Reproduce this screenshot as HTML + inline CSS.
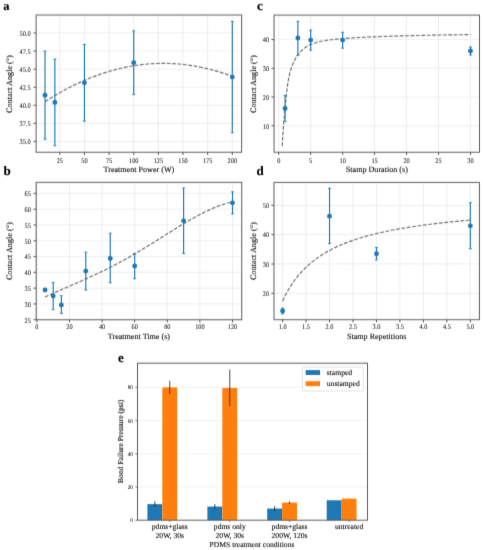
<!DOCTYPE html>
<html><head><meta charset="utf-8"><title>Figure</title>
<style>
html,body{margin:0;padding:0;background:#fff;}
svg{display:block;font-family:"Liberation Serif",serif;text-rendering:geometricPrecision;}
</style></head><body>
<svg width="483" height="550" viewBox="0 0 483 550">
<defs><filter id="soft" x="-5" y="-5" width="493" height="560" filterUnits="userSpaceOnUse" color-interpolation-filters="sRGB"><feConvolveMatrix order="3" kernelMatrix="0.0098 0.1204 0.0098 0.0504 0.6192 0.0504 0.0098 0.1204 0.0098" divisor="1" edgeMode="duplicate" preserveAlpha="true"/></filter></defs>
<g filter="url(#soft)">
<rect x="-5" y="-5" width="493" height="560" fill="#fff"/>
<rect x="36.1" y="15.0" width="205.55" height="137.25" fill="#fff" stroke="none"/>
<line x1="59.80" y1="15.0" x2="59.80" y2="152.25" stroke="#e7e7e7" stroke-width="0.7"/>
<line x1="84.44" y1="15.0" x2="84.44" y2="152.25" stroke="#e7e7e7" stroke-width="0.7"/>
<line x1="109.09" y1="15.0" x2="109.09" y2="152.25" stroke="#e7e7e7" stroke-width="0.7"/>
<line x1="133.73" y1="15.0" x2="133.73" y2="152.25" stroke="#e7e7e7" stroke-width="0.7"/>
<line x1="158.37" y1="15.0" x2="158.37" y2="152.25" stroke="#e7e7e7" stroke-width="0.7"/>
<line x1="183.01" y1="15.0" x2="183.01" y2="152.25" stroke="#e7e7e7" stroke-width="0.7"/>
<line x1="207.66" y1="15.0" x2="207.66" y2="152.25" stroke="#e7e7e7" stroke-width="0.7"/>
<line x1="232.30" y1="15.0" x2="232.30" y2="152.25" stroke="#e7e7e7" stroke-width="0.7"/>
<line x1="36.1" y1="141.40" x2="241.65" y2="141.40" stroke="#e7e7e7" stroke-width="0.7"/>
<line x1="36.1" y1="123.33" x2="241.65" y2="123.33" stroke="#e7e7e7" stroke-width="0.7"/>
<line x1="36.1" y1="105.27" x2="241.65" y2="105.27" stroke="#e7e7e7" stroke-width="0.7"/>
<line x1="36.1" y1="87.20" x2="241.65" y2="87.20" stroke="#e7e7e7" stroke-width="0.7"/>
<line x1="36.1" y1="69.13" x2="241.65" y2="69.13" stroke="#e7e7e7" stroke-width="0.7"/>
<line x1="36.1" y1="51.07" x2="241.65" y2="51.07" stroke="#e7e7e7" stroke-width="0.7"/>
<line x1="36.1" y1="33.00" x2="241.65" y2="33.00" stroke="#e7e7e7" stroke-width="0.7"/>
<path d="M45.01,101.65 L48.14,99.66 L51.26,97.72 L54.38,95.83 L57.50,93.99 L60.62,92.21 L63.74,90.48 L66.86,88.81 L69.99,87.19 L73.11,85.62 L76.23,84.11 L79.35,82.64 L82.47,81.24 L85.59,79.88 L88.71,78.58 L91.84,77.33 L94.96,76.14 L98.08,75.00 L101.20,73.91 L104.32,72.87 L107.44,71.89 L110.56,70.97 L113.69,70.09 L116.81,69.27 L119.93,68.50 L123.05,67.79 L126.17,67.13 L129.29,66.52 L132.41,65.96 L135.54,65.46 L138.66,65.01 L141.78,64.62 L144.90,64.28 L148.02,63.99 L151.14,63.76 L154.26,63.58 L157.39,63.45 L160.51,63.37 L163.63,63.35 L166.75,63.38 L169.87,63.47 L172.99,63.61 L176.11,63.80 L179.24,64.05 L182.36,64.35 L185.48,64.70 L188.60,65.10 L191.72,65.56 L194.84,66.08 L197.96,66.64 L201.09,67.26 L204.21,67.93 L207.33,68.66 L210.45,69.44 L213.57,70.27 L216.69,71.16 L219.81,72.10 L222.94,73.09 L226.06,74.13 L229.18,75.23 L232.30,76.39" fill="none" stroke="#6a6a6a" stroke-width="1.15" stroke-dasharray="3.8 1.6"/>
<line x1="45.01" y1="51.07" x2="45.01" y2="139.23" stroke="#1f77b4" stroke-width="1.15"/>
<line x1="43.51" y1="51.07" x2="46.51" y2="51.07" stroke="#1f77b4" stroke-width="0.9"/>
<line x1="43.51" y1="139.23" x2="46.51" y2="139.23" stroke="#1f77b4" stroke-width="0.9"/>
<circle cx="45.01" cy="95.15" r="2.45" fill="#1f77b4"/>
<line x1="54.87" y1="59.02" x2="54.87" y2="145.74" stroke="#1f77b4" stroke-width="1.15"/>
<line x1="53.37" y1="59.02" x2="56.37" y2="59.02" stroke="#1f77b4" stroke-width="0.9"/>
<line x1="53.37" y1="145.74" x2="56.37" y2="145.74" stroke="#1f77b4" stroke-width="0.9"/>
<circle cx="54.87" cy="102.38" r="2.45" fill="#1f77b4"/>
<line x1="84.44" y1="44.56" x2="84.44" y2="121.17" stroke="#1f77b4" stroke-width="1.15"/>
<line x1="82.94" y1="44.56" x2="85.94" y2="44.56" stroke="#1f77b4" stroke-width="0.9"/>
<line x1="82.94" y1="121.17" x2="85.94" y2="121.17" stroke="#1f77b4" stroke-width="0.9"/>
<circle cx="84.44" cy="82.86" r="2.45" fill="#1f77b4"/>
<line x1="133.73" y1="30.83" x2="133.73" y2="94.43" stroke="#1f77b4" stroke-width="1.15"/>
<line x1="132.23" y1="30.83" x2="135.23" y2="30.83" stroke="#1f77b4" stroke-width="0.9"/>
<line x1="132.23" y1="94.43" x2="135.23" y2="94.43" stroke="#1f77b4" stroke-width="0.9"/>
<circle cx="133.73" cy="62.63" r="2.45" fill="#1f77b4"/>
<line x1="232.30" y1="21.44" x2="232.30" y2="132.73" stroke="#1f77b4" stroke-width="1.15"/>
<line x1="230.80" y1="21.44" x2="233.80" y2="21.44" stroke="#1f77b4" stroke-width="0.9"/>
<line x1="230.80" y1="132.73" x2="233.80" y2="132.73" stroke="#1f77b4" stroke-width="0.9"/>
<circle cx="232.30" cy="77.08" r="2.45" fill="#1f77b4"/>
<rect x="36.1" y="15.0" width="205.55" height="137.25" fill="none" stroke="#555" stroke-width="0.95"/>
<line x1="59.80" y1="152.25" x2="59.80" y2="154.95" stroke="#444" stroke-width="0.9"/>
<text transform="translate(59.80 162.50) scale(0.9 1)" font-size="7.0" text-anchor="middle" font-weight="normal" fill="#111" stroke="#111" stroke-width="0.05">25</text>
<line x1="84.44" y1="152.25" x2="84.44" y2="154.95" stroke="#444" stroke-width="0.9"/>
<text transform="translate(84.44 162.50) scale(0.9 1)" font-size="7.0" text-anchor="middle" font-weight="normal" fill="#111" stroke="#111" stroke-width="0.05">50</text>
<line x1="109.09" y1="152.25" x2="109.09" y2="154.95" stroke="#444" stroke-width="0.9"/>
<text transform="translate(109.09 162.50) scale(0.9 1)" font-size="7.0" text-anchor="middle" font-weight="normal" fill="#111" stroke="#111" stroke-width="0.05">75</text>
<line x1="133.73" y1="152.25" x2="133.73" y2="154.95" stroke="#444" stroke-width="0.9"/>
<text transform="translate(133.73 162.50) scale(0.9 1)" font-size="7.0" text-anchor="middle" font-weight="normal" fill="#111" stroke="#111" stroke-width="0.05">100</text>
<line x1="158.37" y1="152.25" x2="158.37" y2="154.95" stroke="#444" stroke-width="0.9"/>
<text transform="translate(158.37 162.50) scale(0.9 1)" font-size="7.0" text-anchor="middle" font-weight="normal" fill="#111" stroke="#111" stroke-width="0.05">125</text>
<line x1="183.01" y1="152.25" x2="183.01" y2="154.95" stroke="#444" stroke-width="0.9"/>
<text transform="translate(183.01 162.50) scale(0.9 1)" font-size="7.0" text-anchor="middle" font-weight="normal" fill="#111" stroke="#111" stroke-width="0.05">150</text>
<line x1="207.66" y1="152.25" x2="207.66" y2="154.95" stroke="#444" stroke-width="0.9"/>
<text transform="translate(207.66 162.50) scale(0.9 1)" font-size="7.0" text-anchor="middle" font-weight="normal" fill="#111" stroke="#111" stroke-width="0.05">175</text>
<line x1="232.30" y1="152.25" x2="232.30" y2="154.95" stroke="#444" stroke-width="0.9"/>
<text transform="translate(232.30 162.50) scale(0.9 1)" font-size="7.0" text-anchor="middle" font-weight="normal" fill="#111" stroke="#111" stroke-width="0.05">200</text>
<line x1="33.4" y1="141.40" x2="36.1" y2="141.40" stroke="#444" stroke-width="0.9"/>
<text transform="translate(30.60 144.16) scale(0.9 1)" font-size="7.0" text-anchor="end" font-weight="normal" fill="#111" stroke="#111" stroke-width="0.05">35.0</text>
<line x1="33.4" y1="123.33" x2="36.1" y2="123.33" stroke="#444" stroke-width="0.9"/>
<text transform="translate(30.60 126.09) scale(0.9 1)" font-size="7.0" text-anchor="end" font-weight="normal" fill="#111" stroke="#111" stroke-width="0.05">37.5</text>
<line x1="33.4" y1="105.27" x2="36.1" y2="105.27" stroke="#444" stroke-width="0.9"/>
<text transform="translate(30.60 108.03) scale(0.9 1)" font-size="7.0" text-anchor="end" font-weight="normal" fill="#111" stroke="#111" stroke-width="0.05">40.0</text>
<line x1="33.4" y1="87.20" x2="36.1" y2="87.20" stroke="#444" stroke-width="0.9"/>
<text transform="translate(30.60 89.96) scale(0.9 1)" font-size="7.0" text-anchor="end" font-weight="normal" fill="#111" stroke="#111" stroke-width="0.05">42.5</text>
<line x1="33.4" y1="69.13" x2="36.1" y2="69.13" stroke="#444" stroke-width="0.9"/>
<text transform="translate(30.60 71.89) scale(0.9 1)" font-size="7.0" text-anchor="end" font-weight="normal" fill="#111" stroke="#111" stroke-width="0.05">45.0</text>
<line x1="33.4" y1="51.07" x2="36.1" y2="51.07" stroke="#444" stroke-width="0.9"/>
<text transform="translate(30.60 53.83) scale(0.9 1)" font-size="7.0" text-anchor="end" font-weight="normal" fill="#111" stroke="#111" stroke-width="0.05">47.5</text>
<line x1="33.4" y1="33.00" x2="36.1" y2="33.00" stroke="#444" stroke-width="0.9"/>
<text transform="translate(30.60 35.76) scale(0.9 1)" font-size="7.0" text-anchor="end" font-weight="normal" fill="#111" stroke="#111" stroke-width="0.05">50.0</text>
<text transform="translate(138.90 172.40)" font-size="8.1" text-anchor="middle" font-weight="normal" fill="#111" stroke="#111" stroke-width="0.12">Treatment Power (W)</text>
<text transform="translate(11.60 84.10) rotate(-90)" font-size="8.2" text-anchor="middle" font-weight="normal" fill="#111" stroke="#111" stroke-width="0.12">Contact Angle (°)</text>
<text transform="translate(3.20 10.40)" font-size="12.5" text-anchor="start" font-weight="bold" fill="#000" stroke="#000" stroke-width="0.12">a</text>
<rect x="36.15" y="182.35" width="205.6" height="137.4" fill="#fff" stroke="none"/>
<line x1="36.90" y1="182.35" x2="36.90" y2="319.75" stroke="#e7e7e7" stroke-width="0.7"/>
<line x1="69.50" y1="182.35" x2="69.50" y2="319.75" stroke="#e7e7e7" stroke-width="0.7"/>
<line x1="102.10" y1="182.35" x2="102.10" y2="319.75" stroke="#e7e7e7" stroke-width="0.7"/>
<line x1="134.70" y1="182.35" x2="134.70" y2="319.75" stroke="#e7e7e7" stroke-width="0.7"/>
<line x1="167.30" y1="182.35" x2="167.30" y2="319.75" stroke="#e7e7e7" stroke-width="0.7"/>
<line x1="199.90" y1="182.35" x2="199.90" y2="319.75" stroke="#e7e7e7" stroke-width="0.7"/>
<line x1="232.50" y1="182.35" x2="232.50" y2="319.75" stroke="#e7e7e7" stroke-width="0.7"/>
<line x1="36.15" y1="319.75" x2="241.75" y2="319.75" stroke="#e7e7e7" stroke-width="0.7"/>
<line x1="36.15" y1="303.95" x2="241.75" y2="303.95" stroke="#e7e7e7" stroke-width="0.7"/>
<line x1="36.15" y1="288.16" x2="241.75" y2="288.16" stroke="#e7e7e7" stroke-width="0.7"/>
<line x1="36.15" y1="272.37" x2="241.75" y2="272.37" stroke="#e7e7e7" stroke-width="0.7"/>
<line x1="36.15" y1="256.57" x2="241.75" y2="256.57" stroke="#e7e7e7" stroke-width="0.7"/>
<line x1="36.15" y1="240.78" x2="241.75" y2="240.78" stroke="#e7e7e7" stroke-width="0.7"/>
<line x1="36.15" y1="224.98" x2="241.75" y2="224.98" stroke="#e7e7e7" stroke-width="0.7"/>
<line x1="36.15" y1="209.19" x2="241.75" y2="209.19" stroke="#e7e7e7" stroke-width="0.7"/>
<line x1="36.15" y1="193.39" x2="241.75" y2="193.39" stroke="#e7e7e7" stroke-width="0.7"/>
<path d="M45.05,297.06 L48.17,295.59 L51.30,294.15 L54.42,292.75 L57.55,291.36 L60.67,289.99 L63.80,288.62 L66.92,287.27 L70.04,285.92 L73.17,284.56 L76.29,283.21 L79.42,281.84 L82.54,280.46 L85.66,279.06 L88.79,277.65 L91.91,276.22 L95.04,274.77 L98.16,273.29 L101.28,271.79 L104.41,270.25 L107.53,268.70 L110.66,267.11 L113.78,265.49 L116.91,263.84 L120.03,262.17 L123.15,260.46 L126.28,258.72 L129.40,256.96 L132.53,255.16 L135.65,253.34 L138.78,251.50 L141.90,249.63 L145.02,247.73 L148.15,245.82 L151.27,243.90 L154.40,241.95 L157.52,240.00 L160.64,238.04 L163.77,236.08 L166.89,234.11 L170.02,232.15 L173.14,230.19 L176.26,228.25 L179.39,226.32 L182.51,224.42 L185.64,222.54 L188.76,220.70 L191.89,218.89 L195.01,217.13 L198.13,215.43 L201.26,213.77 L204.38,212.19 L207.51,210.67 L210.63,209.24 L213.75,207.89 L216.88,206.63 L220.00,205.48 L223.13,204.44 L226.25,203.52 L229.38,202.73 L232.50,202.07" fill="none" stroke="#6a6a6a" stroke-width="1.15" stroke-dasharray="3.8 1.6"/>
<circle cx="45.05" cy="290.06" r="2.45" fill="#1f77b4"/>
<line x1="53.20" y1="282.47" x2="53.20" y2="309.64" stroke="#1f77b4" stroke-width="1.15"/>
<line x1="51.70" y1="282.47" x2="54.70" y2="282.47" stroke="#1f77b4" stroke-width="0.9"/>
<line x1="51.70" y1="309.64" x2="54.70" y2="309.64" stroke="#1f77b4" stroke-width="0.9"/>
<circle cx="53.20" cy="296.06" r="2.45" fill="#1f77b4"/>
<line x1="61.35" y1="295.74" x2="61.35" y2="313.43" stroke="#1f77b4" stroke-width="1.15"/>
<line x1="59.85" y1="295.74" x2="62.85" y2="295.74" stroke="#1f77b4" stroke-width="0.9"/>
<line x1="59.85" y1="313.43" x2="62.85" y2="313.43" stroke="#1f77b4" stroke-width="0.9"/>
<circle cx="61.35" cy="304.90" r="2.45" fill="#1f77b4"/>
<line x1="85.80" y1="252.15" x2="85.80" y2="290.06" stroke="#1f77b4" stroke-width="1.15"/>
<line x1="84.30" y1="252.15" x2="87.30" y2="252.15" stroke="#1f77b4" stroke-width="0.9"/>
<line x1="84.30" y1="290.06" x2="87.30" y2="290.06" stroke="#1f77b4" stroke-width="0.9"/>
<circle cx="85.80" cy="271.10" r="2.45" fill="#1f77b4"/>
<line x1="110.25" y1="233.19" x2="110.25" y2="282.79" stroke="#1f77b4" stroke-width="1.15"/>
<line x1="108.75" y1="233.19" x2="111.75" y2="233.19" stroke="#1f77b4" stroke-width="0.9"/>
<line x1="108.75" y1="282.79" x2="111.75" y2="282.79" stroke="#1f77b4" stroke-width="0.9"/>
<circle cx="110.25" cy="258.47" r="2.45" fill="#1f77b4"/>
<line x1="134.70" y1="253.41" x2="134.70" y2="278.68" stroke="#1f77b4" stroke-width="1.15"/>
<line x1="133.20" y1="253.41" x2="136.20" y2="253.41" stroke="#1f77b4" stroke-width="0.9"/>
<line x1="133.20" y1="278.68" x2="136.20" y2="278.68" stroke="#1f77b4" stroke-width="0.9"/>
<circle cx="134.70" cy="266.05" r="2.45" fill="#1f77b4"/>
<line x1="183.60" y1="188.02" x2="183.60" y2="253.41" stroke="#1f77b4" stroke-width="1.15"/>
<line x1="182.10" y1="188.02" x2="185.10" y2="188.02" stroke="#1f77b4" stroke-width="0.9"/>
<line x1="182.10" y1="253.41" x2="185.10" y2="253.41" stroke="#1f77b4" stroke-width="0.9"/>
<circle cx="183.60" cy="220.87" r="2.45" fill="#1f77b4"/>
<line x1="232.50" y1="191.81" x2="232.50" y2="213.92" stroke="#1f77b4" stroke-width="1.15"/>
<line x1="231.00" y1="191.81" x2="234.00" y2="191.81" stroke="#1f77b4" stroke-width="0.9"/>
<line x1="231.00" y1="213.92" x2="234.00" y2="213.92" stroke="#1f77b4" stroke-width="0.9"/>
<circle cx="232.50" cy="202.87" r="2.45" fill="#1f77b4"/>
<rect x="36.15" y="182.35" width="205.6" height="137.4" fill="none" stroke="#555" stroke-width="0.95"/>
<line x1="36.90" y1="319.75" x2="36.90" y2="322.45" stroke="#444" stroke-width="0.9"/>
<text transform="translate(36.90 329.30) scale(0.9 1)" font-size="7.0" text-anchor="middle" font-weight="normal" fill="#111" stroke="#111" stroke-width="0.05">0</text>
<line x1="69.50" y1="319.75" x2="69.50" y2="322.45" stroke="#444" stroke-width="0.9"/>
<text transform="translate(69.50 329.30) scale(0.9 1)" font-size="7.0" text-anchor="middle" font-weight="normal" fill="#111" stroke="#111" stroke-width="0.05">20</text>
<line x1="102.10" y1="319.75" x2="102.10" y2="322.45" stroke="#444" stroke-width="0.9"/>
<text transform="translate(102.10 329.30) scale(0.9 1)" font-size="7.0" text-anchor="middle" font-weight="normal" fill="#111" stroke="#111" stroke-width="0.05">40</text>
<line x1="134.70" y1="319.75" x2="134.70" y2="322.45" stroke="#444" stroke-width="0.9"/>
<text transform="translate(134.70 329.30) scale(0.9 1)" font-size="7.0" text-anchor="middle" font-weight="normal" fill="#111" stroke="#111" stroke-width="0.05">60</text>
<line x1="167.30" y1="319.75" x2="167.30" y2="322.45" stroke="#444" stroke-width="0.9"/>
<text transform="translate(167.30 329.30) scale(0.9 1)" font-size="7.0" text-anchor="middle" font-weight="normal" fill="#111" stroke="#111" stroke-width="0.05">80</text>
<line x1="199.90" y1="319.75" x2="199.90" y2="322.45" stroke="#444" stroke-width="0.9"/>
<text transform="translate(199.90 329.30) scale(0.9 1)" font-size="7.0" text-anchor="middle" font-weight="normal" fill="#111" stroke="#111" stroke-width="0.05">100</text>
<line x1="232.50" y1="319.75" x2="232.50" y2="322.45" stroke="#444" stroke-width="0.9"/>
<text transform="translate(232.50 329.30) scale(0.9 1)" font-size="7.0" text-anchor="middle" font-weight="normal" fill="#111" stroke="#111" stroke-width="0.05">120</text>
<line x1="33.449999999999996" y1="319.75" x2="36.15" y2="319.75" stroke="#444" stroke-width="0.9"/>
<text transform="translate(30.80 322.51) scale(0.9 1)" font-size="7.0" text-anchor="end" font-weight="normal" fill="#111" stroke="#111" stroke-width="0.05">25</text>
<line x1="33.449999999999996" y1="303.95" x2="36.15" y2="303.95" stroke="#444" stroke-width="0.9"/>
<text transform="translate(30.80 306.71) scale(0.9 1)" font-size="7.0" text-anchor="end" font-weight="normal" fill="#111" stroke="#111" stroke-width="0.05">30</text>
<line x1="33.449999999999996" y1="288.16" x2="36.15" y2="288.16" stroke="#444" stroke-width="0.9"/>
<text transform="translate(30.80 290.92) scale(0.9 1)" font-size="7.0" text-anchor="end" font-weight="normal" fill="#111" stroke="#111" stroke-width="0.05">35</text>
<line x1="33.449999999999996" y1="272.37" x2="36.15" y2="272.37" stroke="#444" stroke-width="0.9"/>
<text transform="translate(30.80 275.12) scale(0.9 1)" font-size="7.0" text-anchor="end" font-weight="normal" fill="#111" stroke="#111" stroke-width="0.05">40</text>
<line x1="33.449999999999996" y1="256.57" x2="36.15" y2="256.57" stroke="#444" stroke-width="0.9"/>
<text transform="translate(30.80 259.33) scale(0.9 1)" font-size="7.0" text-anchor="end" font-weight="normal" fill="#111" stroke="#111" stroke-width="0.05">45</text>
<line x1="33.449999999999996" y1="240.78" x2="36.15" y2="240.78" stroke="#444" stroke-width="0.9"/>
<text transform="translate(30.80 243.53) scale(0.9 1)" font-size="7.0" text-anchor="end" font-weight="normal" fill="#111" stroke="#111" stroke-width="0.05">50</text>
<line x1="33.449999999999996" y1="224.98" x2="36.15" y2="224.98" stroke="#444" stroke-width="0.9"/>
<text transform="translate(30.80 227.74) scale(0.9 1)" font-size="7.0" text-anchor="end" font-weight="normal" fill="#111" stroke="#111" stroke-width="0.05">55</text>
<line x1="33.449999999999996" y1="209.19" x2="36.15" y2="209.19" stroke="#444" stroke-width="0.9"/>
<text transform="translate(30.80 211.94) scale(0.9 1)" font-size="7.0" text-anchor="end" font-weight="normal" fill="#111" stroke="#111" stroke-width="0.05">60</text>
<line x1="33.449999999999996" y1="193.39" x2="36.15" y2="193.39" stroke="#444" stroke-width="0.9"/>
<text transform="translate(30.80 196.15) scale(0.9 1)" font-size="7.0" text-anchor="end" font-weight="normal" fill="#111" stroke="#111" stroke-width="0.05">65</text>
<text transform="translate(138.90 339.30)" font-size="8.1" text-anchor="middle" font-weight="normal" fill="#111" stroke="#111" stroke-width="0.12">Treatment Time (s)</text>
<text transform="translate(11.60 251.20) rotate(-90)" font-size="8.2" text-anchor="middle" font-weight="normal" fill="#111" stroke="#111" stroke-width="0.12">Contact Angle (°)</text>
<text transform="translate(3.60 174.60)" font-size="13" text-anchor="start" font-weight="bold" fill="#000" stroke="#000" stroke-width="0.12">b</text>
<rect x="274.05" y="15.1" width="205.45" height="137.15" fill="#fff" stroke="none"/>
<line x1="278.70" y1="15.1" x2="278.70" y2="152.25" stroke="#e7e7e7" stroke-width="0.7"/>
<line x1="310.66" y1="15.1" x2="310.66" y2="152.25" stroke="#e7e7e7" stroke-width="0.7"/>
<line x1="342.63" y1="15.1" x2="342.63" y2="152.25" stroke="#e7e7e7" stroke-width="0.7"/>
<line x1="374.59" y1="15.1" x2="374.59" y2="152.25" stroke="#e7e7e7" stroke-width="0.7"/>
<line x1="406.56" y1="15.1" x2="406.56" y2="152.25" stroke="#e7e7e7" stroke-width="0.7"/>
<line x1="438.52" y1="15.1" x2="438.52" y2="152.25" stroke="#e7e7e7" stroke-width="0.7"/>
<line x1="470.49" y1="15.1" x2="470.49" y2="152.25" stroke="#e7e7e7" stroke-width="0.7"/>
<line x1="274.05" y1="125.81" x2="479.5" y2="125.81" stroke="#e7e7e7" stroke-width="0.7"/>
<line x1="274.05" y1="97.04" x2="479.5" y2="97.04" stroke="#e7e7e7" stroke-width="0.7"/>
<line x1="274.05" y1="68.27" x2="479.5" y2="68.27" stroke="#e7e7e7" stroke-width="0.7"/>
<line x1="274.05" y1="39.50" x2="479.5" y2="39.50" stroke="#e7e7e7" stroke-width="0.7"/>
<path d="M282.22,145.95 L282.40,142.79 L282.59,139.64 L282.79,136.49 L282.99,133.33 L283.21,130.18 L283.45,127.03 L283.69,123.90 L283.94,120.82 L284.21,117.75 L284.50,114.64 L284.79,111.45 L285.11,108.12 L285.43,104.54 L285.78,100.74 L286.14,96.90 L286.52,93.19 L286.92,89.81 L287.35,86.64 L287.79,83.56 L288.26,80.64 L288.75,77.89 L289.26,75.37 L289.80,73.11 L290.37,71.02 L290.97,69.08 L291.60,67.25 L292.26,65.51 L292.95,63.83 L293.68,62.18 L294.45,60.57 L295.26,59.02 L296.11,57.54 L297.00,56.16 L297.94,54.88 L298.93,53.65 L299.96,52.44 L301.05,51.27 L302.20,50.13 L303.40,49.04 L304.67,48.01 L306.00,47.03 L307.40,46.12 L308.87,45.30 L310.42,44.55 L312.04,43.89 L313.75,43.27 L315.55,42.70 L317.44,42.18 L319.42,41.69 L321.51,41.24 L323.70,40.83 L326.01,40.45 L328.44,40.10 L330.99,39.78 L333.67,39.47 L336.48,39.19 L339.44,38.92 L342.56,38.66 L345.83,38.40 L349.27,38.15 L352.89,37.91 L356.69,37.68 L360.69,37.45 L364.89,37.23 L369.31,37.02 L373.96,36.82 L378.84,36.63 L383.97,36.45 L389.37,36.27 L395.04,36.09 L401.00,35.92 L407.27,35.75 L413.86,35.58 L420.79,35.43 L428.08,35.27 L435.73,35.13 L443.78,34.99 L452.24,34.85 L461.14,34.73 L470.49,34.61" fill="none" stroke="#6a6a6a" stroke-width="1.15" stroke-dasharray="3.8 1.6"/>
<line x1="285.09" y1="95.60" x2="285.09" y2="121.49" stroke="#1f77b4" stroke-width="1.15"/>
<line x1="283.59" y1="95.60" x2="286.59" y2="95.60" stroke="#1f77b4" stroke-width="0.9"/>
<line x1="283.59" y1="121.49" x2="286.59" y2="121.49" stroke="#1f77b4" stroke-width="0.9"/>
<circle cx="285.09" cy="108.55" r="2.45" fill="#1f77b4"/>
<line x1="297.88" y1="21.37" x2="297.88" y2="55.32" stroke="#1f77b4" stroke-width="1.15"/>
<line x1="296.38" y1="21.37" x2="299.38" y2="21.37" stroke="#1f77b4" stroke-width="0.9"/>
<line x1="296.38" y1="55.32" x2="299.38" y2="55.32" stroke="#1f77b4" stroke-width="0.9"/>
<circle cx="297.88" cy="38.06" r="2.45" fill="#1f77b4"/>
<line x1="310.66" y1="30.01" x2="310.66" y2="50.14" stroke="#1f77b4" stroke-width="1.15"/>
<line x1="309.16" y1="30.01" x2="312.16" y2="30.01" stroke="#1f77b4" stroke-width="0.9"/>
<line x1="309.16" y1="50.14" x2="312.16" y2="50.14" stroke="#1f77b4" stroke-width="0.9"/>
<circle cx="310.66" cy="40.08" r="2.45" fill="#1f77b4"/>
<line x1="342.63" y1="32.31" x2="342.63" y2="48.13" stroke="#1f77b4" stroke-width="1.15"/>
<line x1="341.13" y1="32.31" x2="344.13" y2="32.31" stroke="#1f77b4" stroke-width="0.9"/>
<line x1="341.13" y1="48.13" x2="344.13" y2="48.13" stroke="#1f77b4" stroke-width="0.9"/>
<circle cx="342.63" cy="40.08" r="2.45" fill="#1f77b4"/>
<line x1="470.49" y1="46.98" x2="470.49" y2="55.04" stroke="#1f77b4" stroke-width="1.15"/>
<line x1="468.99" y1="46.98" x2="471.99" y2="46.98" stroke="#1f77b4" stroke-width="0.9"/>
<line x1="468.99" y1="55.04" x2="471.99" y2="55.04" stroke="#1f77b4" stroke-width="0.9"/>
<circle cx="470.49" cy="51.01" r="2.45" fill="#1f77b4"/>
<rect x="274.05" y="15.1" width="205.45" height="137.15" fill="none" stroke="#555" stroke-width="0.95"/>
<line x1="278.70" y1="152.25" x2="278.70" y2="154.95" stroke="#444" stroke-width="0.9"/>
<text transform="translate(278.70 162.50) scale(0.9 1)" font-size="7.0" text-anchor="middle" font-weight="normal" fill="#111" stroke="#111" stroke-width="0.05">0</text>
<line x1="310.66" y1="152.25" x2="310.66" y2="154.95" stroke="#444" stroke-width="0.9"/>
<text transform="translate(310.66 162.50) scale(0.9 1)" font-size="7.0" text-anchor="middle" font-weight="normal" fill="#111" stroke="#111" stroke-width="0.05">5</text>
<line x1="342.63" y1="152.25" x2="342.63" y2="154.95" stroke="#444" stroke-width="0.9"/>
<text transform="translate(342.63 162.50) scale(0.9 1)" font-size="7.0" text-anchor="middle" font-weight="normal" fill="#111" stroke="#111" stroke-width="0.05">10</text>
<line x1="374.59" y1="152.25" x2="374.59" y2="154.95" stroke="#444" stroke-width="0.9"/>
<text transform="translate(374.59 162.50) scale(0.9 1)" font-size="7.0" text-anchor="middle" font-weight="normal" fill="#111" stroke="#111" stroke-width="0.05">15</text>
<line x1="406.56" y1="152.25" x2="406.56" y2="154.95" stroke="#444" stroke-width="0.9"/>
<text transform="translate(406.56 162.50) scale(0.9 1)" font-size="7.0" text-anchor="middle" font-weight="normal" fill="#111" stroke="#111" stroke-width="0.05">20</text>
<line x1="438.52" y1="152.25" x2="438.52" y2="154.95" stroke="#444" stroke-width="0.9"/>
<text transform="translate(438.52 162.50) scale(0.9 1)" font-size="7.0" text-anchor="middle" font-weight="normal" fill="#111" stroke="#111" stroke-width="0.05">25</text>
<line x1="470.49" y1="152.25" x2="470.49" y2="154.95" stroke="#444" stroke-width="0.9"/>
<text transform="translate(470.49 162.50) scale(0.9 1)" font-size="7.0" text-anchor="middle" font-weight="normal" fill="#111" stroke="#111" stroke-width="0.05">30</text>
<line x1="271.35" y1="125.81" x2="274.05" y2="125.81" stroke="#444" stroke-width="0.9"/>
<text transform="translate(269.10 128.57) scale(0.9 1)" font-size="7.0" text-anchor="end" font-weight="normal" fill="#111" stroke="#111" stroke-width="0.05">10</text>
<line x1="271.35" y1="97.04" x2="274.05" y2="97.04" stroke="#444" stroke-width="0.9"/>
<text transform="translate(269.10 99.80) scale(0.9 1)" font-size="7.0" text-anchor="end" font-weight="normal" fill="#111" stroke="#111" stroke-width="0.05">20</text>
<line x1="271.35" y1="68.27" x2="274.05" y2="68.27" stroke="#444" stroke-width="0.9"/>
<text transform="translate(269.10 71.03) scale(0.9 1)" font-size="7.0" text-anchor="end" font-weight="normal" fill="#111" stroke="#111" stroke-width="0.05">30</text>
<line x1="271.35" y1="39.50" x2="274.05" y2="39.50" stroke="#444" stroke-width="0.9"/>
<text transform="translate(269.10 42.26) scale(0.9 1)" font-size="7.0" text-anchor="end" font-weight="normal" fill="#111" stroke="#111" stroke-width="0.05">40</text>
<text transform="translate(376.80 172.40)" font-size="8.1" text-anchor="middle" font-weight="normal" fill="#111" stroke="#111" stroke-width="0.12">Stamp Duration (s)</text>
<text transform="translate(255.50 84.10) rotate(-90)" font-size="8.2" text-anchor="middle" font-weight="normal" fill="#111" stroke="#111" stroke-width="0.12">Contact Angle (°)</text>
<text transform="translate(257.00 10.40)" font-size="13" text-anchor="start" font-weight="bold" fill="#000" stroke="#000" stroke-width="0.12">c</text>
<rect x="274.0" y="182.4" width="205.39999999999998" height="137.29999999999998" fill="#fff" stroke="none"/>
<line x1="282.60" y1="182.4" x2="282.60" y2="319.7" stroke="#e7e7e7" stroke-width="0.7"/>
<line x1="306.06" y1="182.4" x2="306.06" y2="319.7" stroke="#e7e7e7" stroke-width="0.7"/>
<line x1="329.53" y1="182.4" x2="329.53" y2="319.7" stroke="#e7e7e7" stroke-width="0.7"/>
<line x1="353.00" y1="182.4" x2="353.00" y2="319.7" stroke="#e7e7e7" stroke-width="0.7"/>
<line x1="376.46" y1="182.4" x2="376.46" y2="319.7" stroke="#e7e7e7" stroke-width="0.7"/>
<line x1="399.93" y1="182.4" x2="399.93" y2="319.7" stroke="#e7e7e7" stroke-width="0.7"/>
<line x1="423.39" y1="182.4" x2="423.39" y2="319.7" stroke="#e7e7e7" stroke-width="0.7"/>
<line x1="446.86" y1="182.4" x2="446.86" y2="319.7" stroke="#e7e7e7" stroke-width="0.7"/>
<line x1="470.32" y1="182.4" x2="470.32" y2="319.7" stroke="#e7e7e7" stroke-width="0.7"/>
<line x1="274.0" y1="293.30" x2="479.4" y2="293.30" stroke="#e7e7e7" stroke-width="0.7"/>
<line x1="274.0" y1="263.97" x2="479.4" y2="263.97" stroke="#e7e7e7" stroke-width="0.7"/>
<line x1="274.0" y1="234.64" x2="479.4" y2="234.64" stroke="#e7e7e7" stroke-width="0.7"/>
<line x1="274.0" y1="205.31" x2="479.4" y2="205.31" stroke="#e7e7e7" stroke-width="0.7"/>
<path d="M282.60,300.93 L284.95,296.11 L287.29,291.74 L289.64,287.75 L291.99,284.09 L294.33,280.72 L296.68,277.61 L299.03,274.73 L301.37,272.06 L303.72,269.57 L306.06,267.25 L308.41,265.07 L310.76,263.04 L313.10,261.12 L315.45,259.32 L317.80,257.62 L320.14,256.02 L322.49,254.50 L324.84,253.06 L327.18,251.70 L329.53,250.40 L331.88,249.17 L334.22,248.00 L336.57,246.88 L338.92,245.81 L341.26,244.79 L343.61,243.82 L345.96,242.88 L348.30,241.98 L350.65,241.13 L353.00,240.30 L355.34,239.51 L357.69,238.75 L360.03,238.01 L362.38,237.31 L364.73,236.63 L367.07,235.97 L369.42,235.34 L371.77,234.73 L374.11,234.14 L376.46,233.56 L378.81,233.01 L381.15,232.48 L383.50,231.96 L385.85,231.46 L388.19,230.97 L390.54,230.50 L392.89,230.05 L395.23,229.60 L397.58,229.17 L399.93,228.75 L402.27,228.35 L404.62,227.95 L406.96,227.57 L409.31,227.19 L411.66,226.83 L414.00,226.47 L416.35,226.13 L418.70,225.79 L421.04,225.46 L423.39,225.14 L425.74,224.83 L428.08,224.53 L430.43,224.23 L432.78,223.94 L435.12,223.66 L437.47,223.38 L439.82,223.11 L442.16,222.85 L444.51,222.59 L446.86,222.34 L449.20,222.09 L451.55,221.85 L453.89,221.61 L456.24,221.38 L458.59,221.16 L460.93,220.93 L463.28,220.72 L465.63,220.50 L467.97,220.30 L470.32,220.09" fill="none" stroke="#6a6a6a" stroke-width="1.15" stroke-dasharray="3.8 1.6"/>
<line x1="282.60" y1="308.11" x2="282.60" y2="313.68" stroke="#1f77b4" stroke-width="1.15"/>
<line x1="281.10" y1="308.11" x2="284.10" y2="308.11" stroke="#1f77b4" stroke-width="0.9"/>
<line x1="281.10" y1="313.68" x2="284.10" y2="313.68" stroke="#1f77b4" stroke-width="0.9"/>
<circle cx="282.60" cy="310.90" r="2.45" fill="#1f77b4"/>
<line x1="329.53" y1="188.30" x2="329.53" y2="243.44" stroke="#1f77b4" stroke-width="1.15"/>
<line x1="328.03" y1="188.30" x2="331.03" y2="188.30" stroke="#1f77b4" stroke-width="0.9"/>
<line x1="328.03" y1="243.44" x2="331.03" y2="243.44" stroke="#1f77b4" stroke-width="0.9"/>
<circle cx="329.53" cy="216.16" r="2.45" fill="#1f77b4"/>
<line x1="376.46" y1="247.55" x2="376.46" y2="259.86" stroke="#1f77b4" stroke-width="1.15"/>
<line x1="374.96" y1="247.55" x2="377.96" y2="247.55" stroke="#1f77b4" stroke-width="0.9"/>
<line x1="374.96" y1="259.86" x2="377.96" y2="259.86" stroke="#1f77b4" stroke-width="0.9"/>
<circle cx="376.46" cy="253.70" r="2.45" fill="#1f77b4"/>
<line x1="470.32" y1="202.67" x2="470.32" y2="248.72" stroke="#1f77b4" stroke-width="1.15"/>
<line x1="468.82" y1="202.67" x2="471.82" y2="202.67" stroke="#1f77b4" stroke-width="0.9"/>
<line x1="468.82" y1="248.72" x2="471.82" y2="248.72" stroke="#1f77b4" stroke-width="0.9"/>
<circle cx="470.32" cy="225.84" r="2.45" fill="#1f77b4"/>
<rect x="274.0" y="182.4" width="205.39999999999998" height="137.29999999999998" fill="none" stroke="#555" stroke-width="0.95"/>
<line x1="282.60" y1="319.7" x2="282.60" y2="322.4" stroke="#444" stroke-width="0.9"/>
<text transform="translate(282.60 329.30) scale(0.9 1)" font-size="7.0" text-anchor="middle" font-weight="normal" fill="#111" stroke="#111" stroke-width="0.05">1.0</text>
<line x1="306.06" y1="319.7" x2="306.06" y2="322.4" stroke="#444" stroke-width="0.9"/>
<text transform="translate(306.06 329.30) scale(0.9 1)" font-size="7.0" text-anchor="middle" font-weight="normal" fill="#111" stroke="#111" stroke-width="0.05">1.5</text>
<line x1="329.53" y1="319.7" x2="329.53" y2="322.4" stroke="#444" stroke-width="0.9"/>
<text transform="translate(329.53 329.30) scale(0.9 1)" font-size="7.0" text-anchor="middle" font-weight="normal" fill="#111" stroke="#111" stroke-width="0.05">2.0</text>
<line x1="353.00" y1="319.7" x2="353.00" y2="322.4" stroke="#444" stroke-width="0.9"/>
<text transform="translate(353.00 329.30) scale(0.9 1)" font-size="7.0" text-anchor="middle" font-weight="normal" fill="#111" stroke="#111" stroke-width="0.05">2.5</text>
<line x1="376.46" y1="319.7" x2="376.46" y2="322.4" stroke="#444" stroke-width="0.9"/>
<text transform="translate(376.46 329.30) scale(0.9 1)" font-size="7.0" text-anchor="middle" font-weight="normal" fill="#111" stroke="#111" stroke-width="0.05">3.0</text>
<line x1="399.93" y1="319.7" x2="399.93" y2="322.4" stroke="#444" stroke-width="0.9"/>
<text transform="translate(399.93 329.30) scale(0.9 1)" font-size="7.0" text-anchor="middle" font-weight="normal" fill="#111" stroke="#111" stroke-width="0.05">3.5</text>
<line x1="423.39" y1="319.7" x2="423.39" y2="322.4" stroke="#444" stroke-width="0.9"/>
<text transform="translate(423.39 329.30) scale(0.9 1)" font-size="7.0" text-anchor="middle" font-weight="normal" fill="#111" stroke="#111" stroke-width="0.05">4.0</text>
<line x1="446.86" y1="319.7" x2="446.86" y2="322.4" stroke="#444" stroke-width="0.9"/>
<text transform="translate(446.86 329.30) scale(0.9 1)" font-size="7.0" text-anchor="middle" font-weight="normal" fill="#111" stroke="#111" stroke-width="0.05">4.5</text>
<line x1="470.32" y1="319.7" x2="470.32" y2="322.4" stroke="#444" stroke-width="0.9"/>
<text transform="translate(470.32 329.30) scale(0.9 1)" font-size="7.0" text-anchor="middle" font-weight="normal" fill="#111" stroke="#111" stroke-width="0.05">5.0</text>
<line x1="271.3" y1="293.30" x2="274.0" y2="293.30" stroke="#444" stroke-width="0.9"/>
<text transform="translate(269.10 296.06) scale(0.9 1)" font-size="7.0" text-anchor="end" font-weight="normal" fill="#111" stroke="#111" stroke-width="0.05">20</text>
<line x1="271.3" y1="263.97" x2="274.0" y2="263.97" stroke="#444" stroke-width="0.9"/>
<text transform="translate(269.10 266.73) scale(0.9 1)" font-size="7.0" text-anchor="end" font-weight="normal" fill="#111" stroke="#111" stroke-width="0.05">30</text>
<line x1="271.3" y1="234.64" x2="274.0" y2="234.64" stroke="#444" stroke-width="0.9"/>
<text transform="translate(269.10 237.40) scale(0.9 1)" font-size="7.0" text-anchor="end" font-weight="normal" fill="#111" stroke="#111" stroke-width="0.05">40</text>
<line x1="271.3" y1="205.31" x2="274.0" y2="205.31" stroke="#444" stroke-width="0.9"/>
<text transform="translate(269.10 208.07) scale(0.9 1)" font-size="7.0" text-anchor="end" font-weight="normal" fill="#111" stroke="#111" stroke-width="0.05">50</text>
<text transform="translate(376.70 339.30)" font-size="8.1" text-anchor="middle" font-weight="normal" fill="#111" stroke="#111" stroke-width="0.12">Stamp Repetitions</text>
<text transform="translate(255.50 251.20) rotate(-90)" font-size="8.2" text-anchor="middle" font-weight="normal" fill="#111" stroke="#111" stroke-width="0.12">Contact Angle (°)</text>
<text transform="translate(256.50 174.60)" font-size="13" text-anchor="start" font-weight="bold" fill="#000" stroke="#000" stroke-width="0.12">d</text>
<rect x="137.5" y="363.2" width="230.0" height="157.00000000000006" fill="#fff"/>
<line x1="137.5" y1="487.00" x2="367.5" y2="487.00" stroke="#ececec" stroke-width="0.7"/>
<line x1="137.5" y1="453.80" x2="367.5" y2="453.80" stroke="#ececec" stroke-width="0.7"/>
<line x1="137.5" y1="420.60" x2="367.5" y2="420.60" stroke="#ececec" stroke-width="0.7"/>
<line x1="137.5" y1="387.40" x2="367.5" y2="387.40" stroke="#ececec" stroke-width="0.7"/>
<rect x="147.40" y="504.10" width="14.9" height="16.10" fill="#1f77b4"/>
<rect x="162.30" y="387.40" width="14.9" height="132.80" fill="#ff7f0e"/>
<line x1="154.85" y1="501.11" x2="154.85" y2="507.09" stroke="#222" stroke-width="0.8"/>
<line x1="169.75" y1="380.76" x2="169.75" y2="394.04" stroke="#222" stroke-width="0.8"/>
<rect x="207.40" y="506.59" width="14.9" height="13.61" fill="#1f77b4"/>
<rect x="222.30" y="387.90" width="14.9" height="132.30" fill="#ff7f0e"/>
<line x1="214.85" y1="504.10" x2="214.85" y2="509.08" stroke="#222" stroke-width="0.8"/>
<line x1="229.75" y1="369.64" x2="229.75" y2="406.16" stroke="#222" stroke-width="0.8"/>
<rect x="267.20" y="508.58" width="14.9" height="11.62" fill="#1f77b4"/>
<rect x="282.10" y="502.60" width="14.9" height="17.60" fill="#ff7f0e"/>
<line x1="274.65" y1="506.09" x2="274.65" y2="511.07" stroke="#222" stroke-width="0.8"/>
<line x1="289.55" y1="501.28" x2="289.55" y2="503.93" stroke="#222" stroke-width="0.8"/>
<rect x="326.70" y="500.28" width="14.9" height="19.92" fill="#1f77b4"/>
<rect x="341.60" y="498.62" width="14.9" height="21.58" fill="#ff7f0e"/>
<rect x="137.5" y="363.2" width="230.0" height="157.00000000000006" fill="none" stroke="#555" stroke-width="0.95"/>
<line x1="135.3" y1="520.20" x2="137.5" y2="520.20" stroke="#555" stroke-width="0.8"/>
<text transform="translate(132.90 522.20) scale(0.92 1)" font-size="5.6" text-anchor="end" font-weight="normal" fill="#111" stroke="#111" stroke-width="0.05">0</text>
<line x1="135.3" y1="487.00" x2="137.5" y2="487.00" stroke="#555" stroke-width="0.8"/>
<text transform="translate(132.90 489.00) scale(0.92 1)" font-size="5.6" text-anchor="end" font-weight="normal" fill="#111" stroke="#111" stroke-width="0.05">20</text>
<line x1="135.3" y1="453.80" x2="137.5" y2="453.80" stroke="#555" stroke-width="0.8"/>
<text transform="translate(132.90 455.80) scale(0.92 1)" font-size="5.6" text-anchor="end" font-weight="normal" fill="#111" stroke="#111" stroke-width="0.05">40</text>
<line x1="135.3" y1="420.60" x2="137.5" y2="420.60" stroke="#555" stroke-width="0.8"/>
<text transform="translate(132.90 422.60) scale(0.92 1)" font-size="5.6" text-anchor="end" font-weight="normal" fill="#111" stroke="#111" stroke-width="0.05">60</text>
<line x1="135.3" y1="387.40" x2="137.5" y2="387.40" stroke="#555" stroke-width="0.8"/>
<text transform="translate(132.90 389.40) scale(0.92 1)" font-size="5.6" text-anchor="end" font-weight="normal" fill="#111" stroke="#111" stroke-width="0.05">80</text>
<line x1="169.75" y1="520.2" x2="169.75" y2="521.9000000000001" stroke="#555" stroke-width="0.8"/>
<text transform="translate(169.75 528.80)" font-size="7.6" text-anchor="middle" font-weight="normal" fill="#111" stroke="#111" stroke-width="0.12">pdms+glass</text>
<text transform="translate(169.75 538.00)" font-size="7.6" text-anchor="middle" font-weight="normal" fill="#111" stroke="#111" stroke-width="0.12">20W, 30s</text>
<line x1="229.75" y1="520.2" x2="229.75" y2="521.9000000000001" stroke="#555" stroke-width="0.8"/>
<text transform="translate(229.75 528.80)" font-size="7.6" text-anchor="middle" font-weight="normal" fill="#111" stroke="#111" stroke-width="0.12">pdms only</text>
<text transform="translate(229.75 538.00)" font-size="7.6" text-anchor="middle" font-weight="normal" fill="#111" stroke="#111" stroke-width="0.12">20W, 30s</text>
<line x1="289.55" y1="520.2" x2="289.55" y2="521.9000000000001" stroke="#555" stroke-width="0.8"/>
<text transform="translate(289.55 528.80)" font-size="7.6" text-anchor="middle" font-weight="normal" fill="#111" stroke="#111" stroke-width="0.12">pdms+glass</text>
<text transform="translate(289.55 538.00)" font-size="7.6" text-anchor="middle" font-weight="normal" fill="#111" stroke="#111" stroke-width="0.12">200W, 120s</text>
<line x1="349.05" y1="520.2" x2="349.05" y2="521.9000000000001" stroke="#555" stroke-width="0.8"/>
<text transform="translate(349.05 528.80)" font-size="7.6" text-anchor="middle" font-weight="normal" fill="#111" stroke="#111" stroke-width="0.12">untreated</text>
<text transform="translate(252.00 547.20)" font-size="7.6" text-anchor="middle" font-weight="normal" fill="#111" stroke="#111" stroke-width="0.12">PDMS treatment conditions</text>
<text transform="translate(122.60 441.30) rotate(-90)" font-size="7.6" text-anchor="middle" font-weight="normal" fill="#111" stroke="#111" stroke-width="0.12">Bond Failure Pressure (psi)</text>
<text transform="translate(118.00 361.60)" font-size="13" text-anchor="start" font-weight="bold" fill="#000" stroke="#000" stroke-width="0.12">e</text>
<rect x="302.4" y="367" width="61" height="24" rx="1.5" fill="#fff" stroke="#d4d4d4" stroke-width="0.7"/>
<rect x="305.7" y="370.1" width="14.4" height="4.9" fill="#1f77b4"/>
<rect x="305.7" y="381.2" width="14.4" height="4.9" fill="#ff7f0e"/>
<text transform="translate(326.80 375.40)" font-size="7.6" text-anchor="start" font-weight="normal" fill="#111" stroke="#111" stroke-width="0.12">stamped</text>
<text transform="translate(326.80 386.40)" font-size="7.6" text-anchor="start" font-weight="normal" fill="#111" stroke="#111" stroke-width="0.12">unstamped</text>
</g>
</svg>
</body></html>
